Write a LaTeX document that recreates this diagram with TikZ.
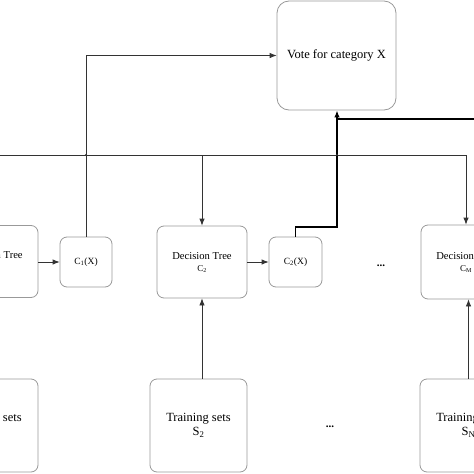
\documentclass[tikz,border=0pt]{standalone}
\usepackage{fontspec}
\setmainfont{Liberation Serif}
\usetikzlibrary{arrows.meta}
\begin{document}
\begin{tikzpicture}[x=1pt,y=-1pt,
  box/.style={draw=black!40,line width=0.8pt,rounded corners=7pt,inner sep=0pt,align=center,font=\fontsize{12.5}{13.5}\selectfont},
  tbox/.style={box,minimum width=90pt,minimum height=72pt,font=\fontsize{10.6}{12}\selectfont},
  sbox/.style={box,minimum width=97pt,minimum height=93pt},
  cbox/.style={box,minimum width=52pt,minimum height=50pt,font=\fontsize{9.5}{11}\selectfont},
  ln/.style={draw=black!80,line width=0.8pt},
  thk/.style={draw=black,line width=1.6pt},
  arr/.style={-{Latex[length=7pt,width=5.5pt]}},
  dots/.style={font=\bfseries\fontsize{11}{11}\selectfont}]
\useasboundingbox (0,0) rectangle (474,474);
\node[box,minimum width=119pt,minimum height=109pt,rounded corners=12pt] (vote) at (336.5,55.5) {Vote for category X};
\node[tbox] (t1) at (-7,261.5) {Decision Tree\\{\fontsize{9}{10}\selectfont C\textsubscript{1}}};
\node[cbox] (c1) at (86,262) {C\textsubscript{1}(X)};
\node[tbox] (t2) at (202,262) {Decision Tree\\{\fontsize{9}{10}\selectfont C\textsubscript{2}}};
\node[cbox,minimum width=53pt] (c2) at (295.5,262) {C\textsubscript{2}(X)};
\node[tbox,minimum height=74pt] (tm) at (466,262) {Decision Tree\\{\fontsize{9}{10}\selectfont C\textsubscript{M}}};
\node[sbox] (s1) at (-10.5,425.5) {Training sets\\S\textsubscript{1}};
\node[sbox] (s2) at (198.5,425.5) {Training sets\\S\textsubscript{2}};
\node[sbox] (sn) at (468.5,425.5) {Training sets\\S\textsubscript{N}};
\node[dots] (d1) at (381,266) {...};
\node[dots] (d2) at (330,427) {...};
\coordinate (busl) at (-10,155);
\coordinate (busr) at (466,155);
\coordinate (b2) at (202,155);
\coordinate (rin) at (480,119);
\coordinate (vj) at (337,119);
% bus
\draw[ln] (busl) -- (busr);
\draw[ln,arr] (busr) -- (tm.north);
\draw[ln,arr] (b2) -- (t2.north);
% tree to result
\draw[ln,arr] (t1.east |- c1.west) -- (c1.west);
\draw[ln,arr] (t2.east) -- (c2.west);
% c1 to vote
\draw[ln,arr] (c1.north) -- (c1.north |- vote.west) -- (vote.west);
\fill[black!80] (86,155) circle (1.2pt);
% c2 to vote (thick)
\draw[thk,arr] (c2.north) -- (295.5,227) -- (337,227) -- (vote.south -| vj);
\draw[thk] (rin) -- (vj);
\fill[black!80] (337,155) circle (1.2pt);
% training to trees
\draw[ln,arr] (s2.north -| t2.south) -- (t2.south);
\draw[ln,arr] (sn.north) -- (sn.north |- tm.south);
\end{tikzpicture}
\end{document}
